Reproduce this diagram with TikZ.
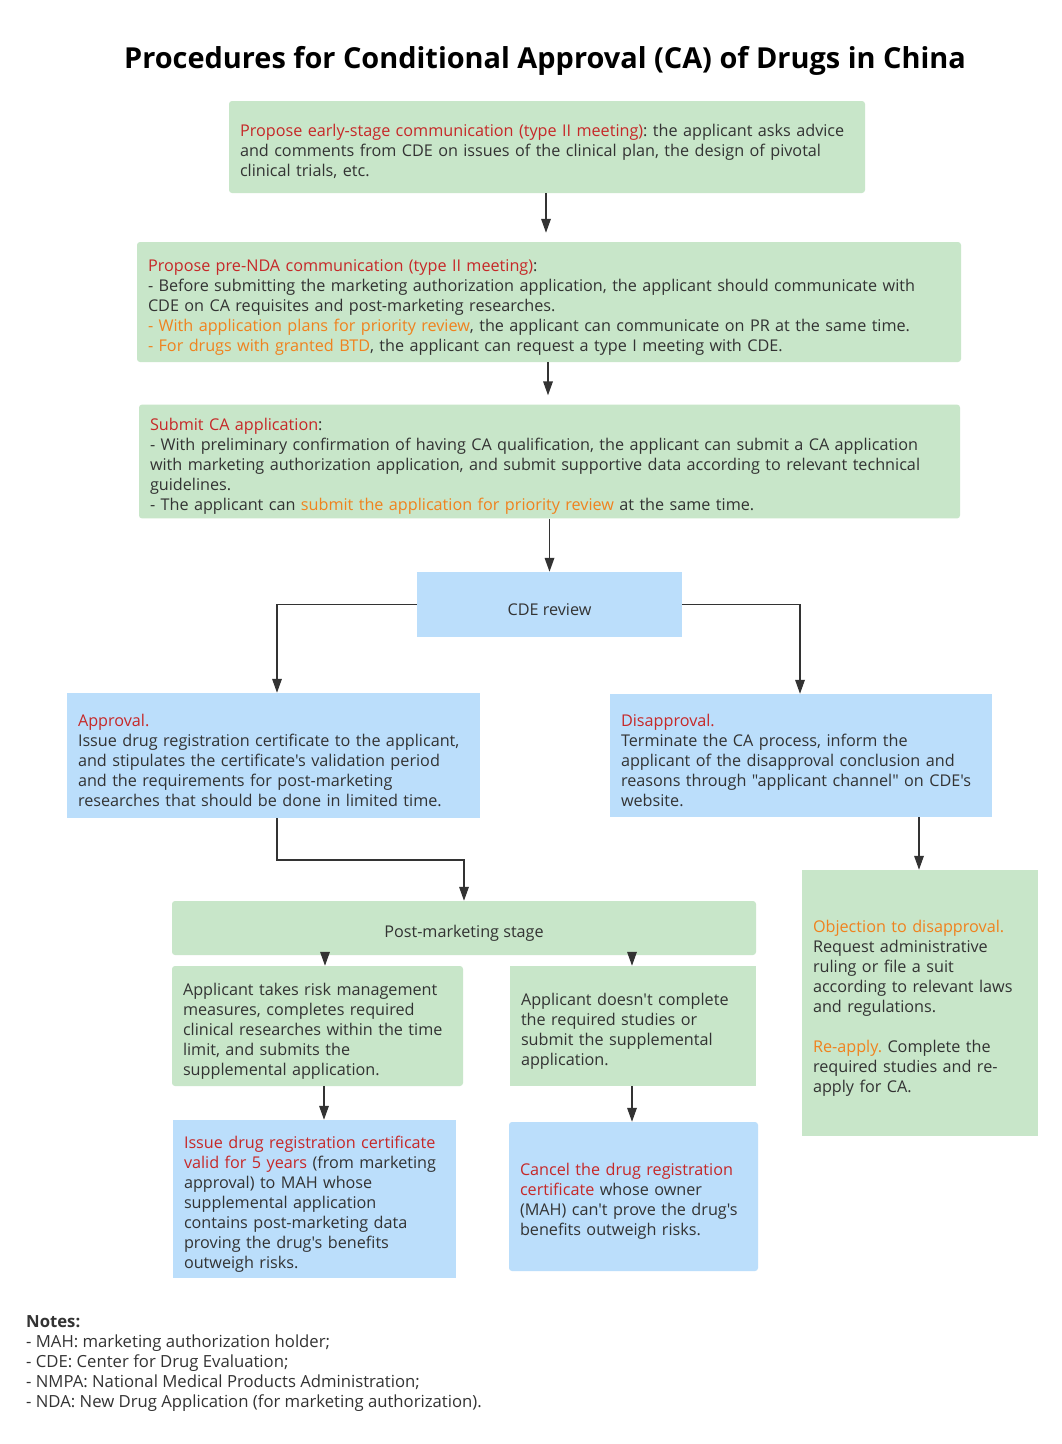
\documentclass[tikz,border=0pt]{standalone}
\usepackage{fontspec}
\setmainfont{Open Sans}[Ligatures=TeXOff]
\usetikzlibrary{arrows.meta}
\definecolor{gfill}{RGB}{200,230,201}
\definecolor{bfill}{RGB}{187,222,251}
\definecolor{txt}{RGB}{51,51,51}
\definecolor{tr}{RGB}{198,40,40}
\definecolor{to}{RGB}{240,130,30}
\definecolor{arrc}{RGB}{51,51,51}
\newcommand{\tred}[1]{\textcolor{tr}{#1}}
\newcommand{\torg}[1]{\textcolor{to}{#1}}
\newcommand{\fst}{\rule{0pt}{22pt}}
\tikzset{
  box/.style={inner xsep=11pt, inner ysep=4pt, align=left, text=txt,
    font=\fontsize{16.2}{20}\selectfont\frenchspacing},
  gbox/.style={box, fill=gfill},
  bbox/.style={box, fill=bfill},
  rc/.style={rounded corners=3pt},
  arr/.style={draw=arrc, line width=1.7pt, -{Triangle[length=14pt,width=9.5pt]}},
}
\begin{document}
\begin{tikzpicture}[x=1pt,y=-1pt]
\useasboundingbox[fill=white] (0,0) rectangle (1061,1444);

\node[text=black, font=\fontsize{28.9}{34}\selectfont\bfseries] (title) at (545,61)
  {Procedures for Conditional Approval (CA) of Drugs in China};

\node[gbox, rc, text width=614pt, minimum height=92pt] (b1) at (547,147)
  {\fst\tred{Propose early-stage communication (type II meeting)}: the applicant asks advice\\
   and comments from CDE on issues of the clinical plan, the design of pivotal\\
   clinical trials, etc.};

\node[gbox, rc, text width=802pt, minimum height=120pt] (b2) at (549,302)
  {\fst\tred{Propose pre-NDA communication (type II meeting)}:\\
   - Before submitting the marketing authorization application, the applicant should communicate with\\
   CDE on CA requisites and post-marketing researches.\\
   \torg{- With application plans for priority review}, the applicant can communicate on PR at the same time.\\
   \torg{- For drugs with granted BTD}, the applicant can request a type I meeting with CDE.};

\node[gbox, rc, text width=799pt, minimum height=111pt] (b3) at (549.5,461.5)
  {\fst\tred{Submit CA application}:\\
   - With preliminary confirmation of having CA qualification, the applicant can submit a CA application\\
   with marketing authorization application, and submit supportive data according to relevant technical\\
   guidelines.\\
   - The applicant can \torg{submit the application for priority review} at the same time.};

\node[bbox, align=center, minimum width=265pt, minimum height=65pt] (cde) at (549.5,604.5)
  {\fst CDE review};

\node[bbox, text width=391pt, minimum height=125pt] (appr) at (273.5,755.5)
  {\fst\tred{Approval.}\\
   Issue drug registration certificate to the applicant,\\
   and stipulates the certificate's validation period\\
   and the requirements for post-marketing\\
   researches that should be done in limited time.};

\node[bbox, text width=360pt, minimum height=123pt] (disap) at (801,755.5)
  {\fst\tred{Disapproval.}\\
   Terminate the CA process, inform the\\
   applicant of the disapproval conclusion and\\
   reasons through "applicant channel" on CDE's\\
   website.};

\node[gbox, text width=214pt, minimum height=266pt] (obj) at (920,1003)
  {\fst\torg{Objection to disapproval.}\\
   Request administrative\\
   ruling or file a suit\\
   according to relevant laws\\
   and regulations.\\[20pt]
   \torg{Re-apply.} Complete the\\
   required studies and re-\\
   apply for CA.};

\node[gbox, rc, align=center, minimum width=584pt, minimum height=54pt] (post) at (464,928)
  {\fst Post-marketing stage};

\node[gbox, rc, text width=269pt, minimum height=120pt] (left) at (317.5,1026)
  {\fst Applicant takes risk management\\
   measures, completes required\\
   clinical researches within the time\\
   limit, and submits the\\
   supplemental application.};

\node[gbox, text width=224pt, minimum height=120pt] (right) at (633,1026)
  {\fst Applicant doesn't complete\\
   the required studies or\\
   submit the supplemental\\
   application.};

\node[bbox, text width=261pt, minimum height=158pt] (issue) at (314.5,1199)
  {\fst\tred{Issue drug registration certificate}\\
   \tred{valid for 5 years} (from marketing\\
   approval) to MAH whose\\
   supplemental application\\
   contains post-marketing data\\
   proving the drug's benefits\\
   outweigh risks.};

\node[bbox, rc, text width=227pt, minimum height=149pt] (cancel) at (633.5,1196.5)
  {\fst\tred{Cancel the drug registration}\\
   \tred{certificate} whose owner\\
   (MAH) can't prove the drug's\\
   benefits outweigh risks.};

\node[anchor=north west, inner sep=0pt, align=left, text=txt,
      font=\fontsize{16.7}{20}\selectfont\frenchspacing] (notes) at (26,1315)
  {\textbf{Notes:}\\
   - MAH: marketing authorization holder;\\
   - CDE: Center for Drug Evaluation;\\
   - NMPA: National Medical Products Administration;\\
   - NDA: New Drug Application (for marketing authorization).};

% connectors
\draw[arr, shorten >=9pt] ([xshift=-1pt]b1.south) -- ([xshift=-1pt]b1.south |- b2.north);
\draw[arr, shorten >=9pt] ([xshift=-1pt]b2.south) -- ([xshift=-1pt]b2.south |- b3.north);
\draw[arr] (b3.south) -- (b3.south |- cde.north);
\draw[arr] (cde.west) -| ([xshift=3.5pt]appr.north);
\draw[arr] (cde.east) -| ([xshift=-1pt]disap.north);
\draw[arr] ([xshift=3.5pt]appr.south) -- ++(0,42) -| (post.north);
\draw[arr] ([xshift=-1pt]obj.north |- disap.south) -- ([xshift=-1pt]obj.north);
\draw[arr] ([xshift=7.5pt]left.north |- post.south) -- ([xshift=7.5pt]left.north);
\draw[arr] ([xshift=-1pt]right.north |- post.south) -- ([xshift=-1pt]right.north);
\draw[arr] ([xshift=9.5pt]issue.north |- left.south) -- ([xshift=9.5pt]issue.north);
\draw[arr] ([xshift=-1.5pt]cancel.north |- right.south) -- ([xshift=-1.5pt]cancel.north);
\end{tikzpicture}
\end{document}
